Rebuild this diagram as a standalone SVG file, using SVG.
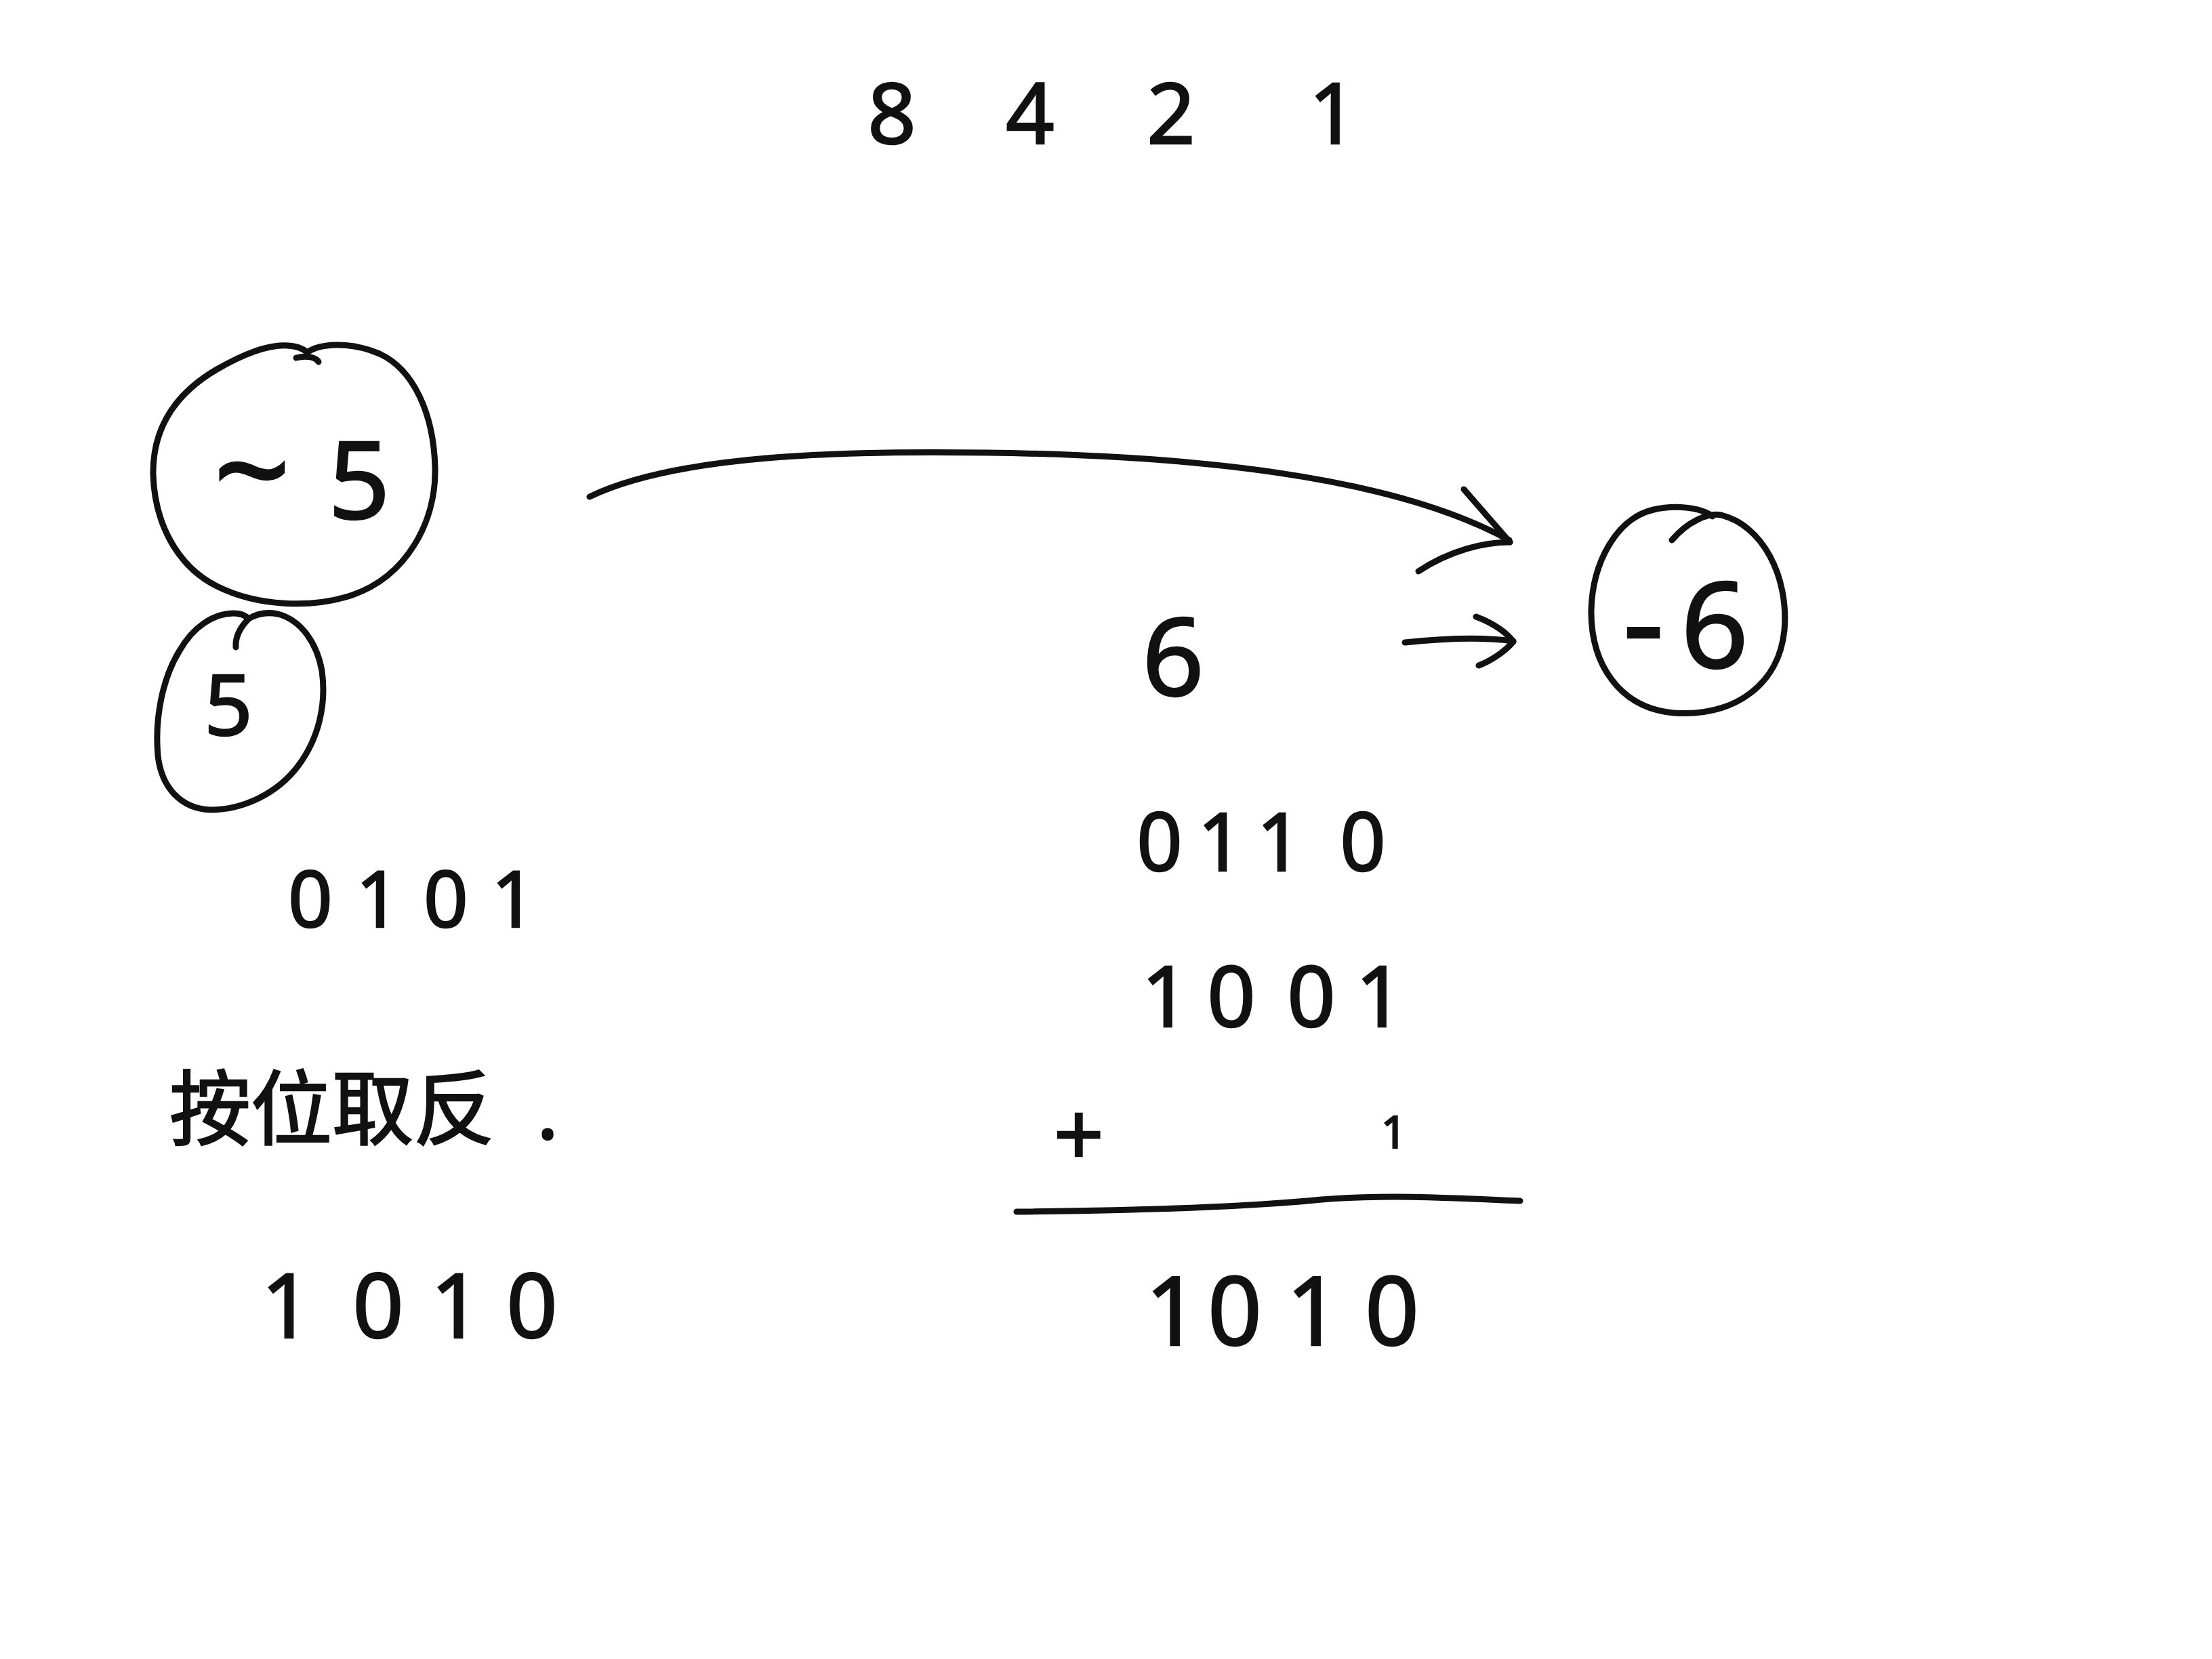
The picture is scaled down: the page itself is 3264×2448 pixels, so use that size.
<svg xmlns="http://www.w3.org/2000/svg" width="3264" height="2448" viewBox="0 0 3264 2448">
<style>
.ink{fill:none;stroke:#111;stroke-width:9;stroke-linecap:round;stroke-linejoin:round}
.t{font-family:'Noto Sans','Noto Sans CJK SC',sans-serif;fill:#111;stroke:#111;stroke-width:2.5;text-anchor:middle}
</style>
<rect width="3264" height="2448" fill="#ffffff"/>
<g id="weights">
<text class="t" y="212" font-size="125"><tspan x="1316">8</tspan><tspan x="1520">4</tspan><tspan x="1728">2</tspan><tspan x="1967">1</tspan></text>
</g>
<g id="node-not5">
<path class="ink" d="M453,520 C475,505 520,505 560,522 C610,545 640,610 642,690 C644,770 600,850 520,878 C460,898 380,895 320,865 C260,835 228,770 226,700 C225,630 260,580 320,545 C360,522 395,508 425,510 C440,511 448,515 453,520"/>
<path class="ink" d="M437,528 C452,524 466,527 470,534"/>
<text class="t" y="765"><tspan x="372" font-size="200">~</tspan><tspan x="530" font-size="160">5</tspan></text>
</g>
<g id="node-5">
<path class="ink" d="M367,913 C380,905 395,903 410,906 C445,915 468,950 475,990 C482,1040 470,1090 440,1130 C410,1170 360,1195 310,1195 C265,1193 238,1160 233,1115 C228,1060 240,1000 265,960 C285,925 315,905 345,905 C355,905 362,908 367,913"/>
<path class="ink" d="M367,913 C355,925 347,940 348,955"/>
<text class="t" x="337" y="1085" font-size="125">5</text>
</g>
<g id="left-calc">
<text class="t" y="1368" font-size="115"><tspan x="458">0</tspan><tspan x="558">1</tspan><tspan x="658">0</tspan><tspan x="758">1</tspan></text>
<text class="t" y="1680" font-size="120" style="text-anchor:start"><tspan x="250">按位取反</tspan><tspan x="792">.</tspan></text>
<text class="t" y="1974" font-size="132"><tspan x="423">1</tspan><tspan x="558">0</tspan><tspan x="673">1</tspan><tspan x="785">0</tspan></text>
</g>
<g id="node-6">
<text class="t" x="1731" y="1026" font-size="160">6</text>
</g>
<g id="node-neg6">
<path class="ink" d="M2527,762 C2510,748 2470,745 2440,752 C2385,765 2350,830 2348,900 C2347,980 2390,1045 2470,1052 C2560,1058 2625,1010 2633,930 C2640,850 2600,775 2540,760 C2520,756 2490,770 2467,797"/>
<text class="t" y="985"><tspan x="2425" font-size="190">-</tspan><tspan x="2530" font-size="175">6</tspan></text>
</g>
<g id="right-calc">
<text class="t" y="1285" font-size="118"><tspan x="1711">0</tspan><tspan x="1801">1</tspan><tspan x="1888">1</tspan><tspan x="2011">0</tspan></text>
<text class="t" y="1515" font-size="125"><tspan x="1720">1</tspan><tspan x="1817">0</tspan><tspan x="1935">0</tspan><tspan x="2036">1</tspan></text>
<text class="t" x="1592" y="1720" font-size="130">+</text>
<text class="t" x="2057" y="1694" font-size="66">1</text>
<path class="ink" d="M1500,1788 C1700,1786 1850,1780 1950,1770 C2050,1762 2150,1768 2243,1772"/>
<text class="t" y="1985" font-size="140"><tspan x="1730">1</tspan><tspan x="1822">0</tspan><tspan x="1938">1</tspan><tspan x="2054">0</tspan></text>
</g>
<g id="connectors">
<path class="ink" stroke-width="8" d="M870,733 C1000,670 1250,665 1457,668 C1750,672 2050,700 2227,797"/>
<path class="ink" d="M2160,722 L2228,800"/>
<path class="ink" d="M2093,843 C2140,812 2190,800 2228,800"/>
<path class="ink" d="M2073,948 C2130,942 2190,940 2233,946"/>
<path class="ink" d="M2178,910 C2205,920 2225,935 2233,947 C2220,962 2200,975 2182,982"/>
</g>
</svg>
